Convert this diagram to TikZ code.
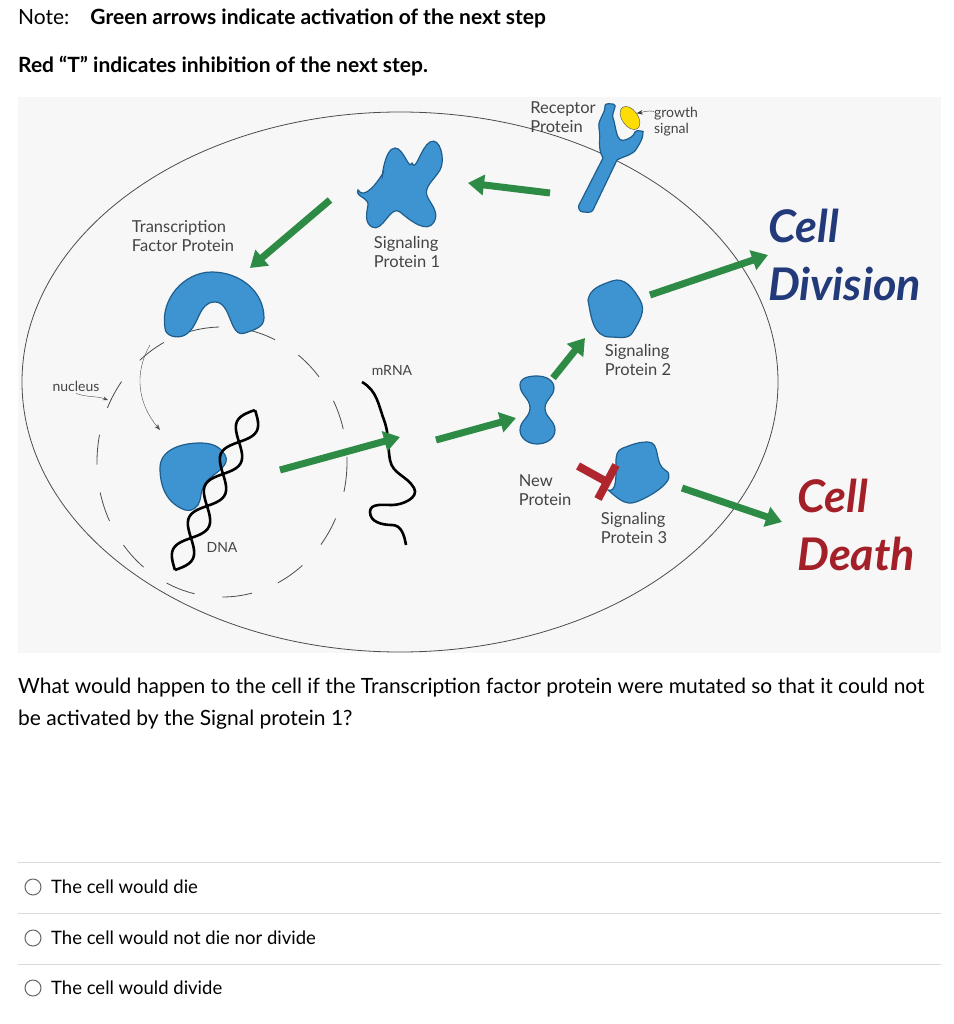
\documentclass[tikz,border=0pt]{standalone}
\usepackage{fontspec}
\setmainfont{Lato}
\usetikzlibrary{arrows.meta,shapes.geometric}
\definecolor{pblue}{HTML}{3E94D1}
\definecolor{pedge}{HTML}{1F5E8C}
\definecolor{agreen}{HTML}{2E8B45}
\definecolor{tred}{HTML}{B0262E}
\definecolor{navy}{HTML}{233A7A}
\definecolor{deathred}{HTML}{A32029}
\definecolor{lbl}{HTML}{444444}
\begin{document}
\begin{tikzpicture}[x=1pt,y=-1pt,
  prot/.style={fill=pblue,draw=pedge,line width=1.2pt},
  act/.style={draw=agreen,line width=7pt,-{Triangle[width=20pt,length=16pt]}},
  lab/.style={font=\fontsize{16.5}{19}\selectfont,text=lbl,align=left,inner sep=0pt},
  big/.style={font=\fontsize{45}{48}\selectfont\bfseries\itshape,inner sep=0pt,anchor=west},
  txt/.style={font=\fontsize{21}{26}\selectfont,inner sep=0pt,anchor=west},
  rule/.style={draw=black!15,line width=1pt}]
\useasboundingbox (0,0) rectangle (953,1024);
\fill[white] (0,0) rectangle (953,1024);
% header
\node[txt] (note) at (18,18) {Note:\quad \textbf{Green arrows indicate activation of the next step}};
\node[txt] (red) at (18,66) {\textbf{Red “T” indicates inhibition of the next step.}};
% image background
\fill[black!3] (18,97) rectangle (941,653);
% cell
\draw[black!70,line width=0.8pt] (400,382) ellipse [x radius=378,y radius=270];
% nucleus
\draw[black!70,line width=0.8pt,dash pattern=on 30pt off 28pt] (222,462) ellipse [x radius=125,y radius=135];
\node[lab,font=\fontsize{14}{16}\selectfont] (nuc) at (76,386) {nucleus};
\coordinate (nucp) at (108,400);
\draw[black!70,-{Stealth[length=5pt]}] (nuc.south) ++(0,2) to[out=-20,in=160] (nucp);
% receptor
\node[lab] (rec) at (563,117) {Receptor\\Protein};
\begin{scope}[shift={(7,0)}]
\draw[prot,line join=round] (572,205) -- (596,158) to[out=120,in=-80] (592,128) to[out=100,in=-90] (598,106)
  to[out=90,in=180] (606,104) to[out=0,in=110] (606,118) to[out=-70,in=200] (618,140)
  to[out=20,in=-110] (628,132) to[out=70,in=0] (636,132) to[out=-90,in=60] (630,148)
  to[out=-120,in=30] (610,160) -- (586,210) to[out=-120,in=0] (576,212) to[out=180,in=-120] cycle;
\end{scope}
\node[ellipse,draw=black!70,fill=yellow!80!orange,minimum width=16pt,minimum height=26pt,rotate=35,inner sep=0pt] (gs) at (630,118) {};
\node[lab,font=\fontsize{14}{16}\selectfont] (gsl) at (676,122) {growth\\signal};
\draw[black!80,-{Stealth[length=6pt]}] (gsl.north west) ++(0,4) to[out=170,in=10] (gs.east);
% signaling protein 1 (X)
\draw[prot] (358,190) to[out=-60,in=-120] (383,173) to[out=-100,in=180] (395,148) to[out=0,in=-110] (412,163)
  to[out=-70,in=210] (430,142) to[out=30,in=60] (440,170) to[out=-120,in=120] (428,198)
  to[out=-60,in=60] (434,222) to[out=-120,in=-40] (400,212) to[out=140,in=-30] (372,227)
  to[out=150,in=-100] (368,205) to[out=80,in=-120] cycle;
\node[lab] (sp1l) at (407,252) {Signaling\\Protein 1};
% transcription factor
\node[lab] (tfl) at (183,236) {Transcription\\Factor Protein};
\draw[prot] (165,328) to[out=100,in=180] (212,272) to[out=0,in=90] (264,318) to[out=-90,in=20] (245,333)
  to[out=200,in=0] (215,302) to[out=180,in=30] (185,335) to[out=210,in=-90] cycle;
% curved thin arrow
\draw[black!70,-{Stealth[length=6pt]}] (150,345) to[out=240,in=130] (160,430);
% DNA-bound protein
\draw[prot] (160,468) to[out=90,in=180] (200,443) to[out=0,in=120] (225,455) to[out=-60,in=40] (210,478)
  to[out=220,in=80] (200,500) to[out=-100,in=-20] (185,510) to[out=160,in=-90] cycle;
% DNA helix
\draw[black,line width=2.6pt,smooth] plot[domain=0:1,samples=60] ({175+80*\x+11*sin(\x*900)*0.894},{570-160*\x+11*sin(\x*900)*0.447});
\draw[black,line width=2.6pt,smooth] plot[domain=0:1,samples=60] ({175+80*\x+11*sin(\x*900+180)*0.894},{570-160*\x+11*sin(\x*900+180)*0.447});
\node[lab,font=\fontsize{14}{16}\selectfont] (dna) at (222,547) {DNA};
% mRNA
\draw[black,line width=2.6pt] (362,382) to[out=-30,in=110] (384,420) to[out=-70,in=100] (390,460) to[out=-80,in=120] (414,488)
  to[out=-60,in=0] (392,505) to[out=180,in=90] (370,512) to[out=-90,in=180] (392,525) to[out=0,in=100] (406,545);
\node[lab,font=\fontsize{14}{16}\selectfont] (mrna) at (392,370) {mRNA};
% new protein
\draw[prot] (520,385) to[out=90,in=180] (537,376) to[out=0,in=90] (554,388) to[out=-90,in=90] (545,408)
  to[out=-90,in=90] (555,430) to[out=-90,in=0] (537,444) to[out=180,in=-90] (520,430) to[out=90,in=-90] (530,408) to[out=90,in=-90] cycle;
\node[lab] (npl) at (545,490) {New\\Protein};
% signaling protein 2
\draw[prot] (588,300) to[out=80,in=200] (612,281) to[out=20,in=120] (640,300) to[out=-60,in=60] (633,332) to[out=-120,in=0] (610,337) to[out=180,in=-80] cycle;
\node[lab] (sp2l) at (638,360) {Signaling\\Protein 2};
% signaling protein 3
\begin{scope}[shift={(8,0)}]
\draw[prot] (600,490) to[out=-20,in=-90] (608,470) to[out=90,in=200] (615,448) to[out=20,in=180] (640,442) to[out=0,in=150] (657,470)
  to[out=-30,in=20] (628,502) to[out=200,in=-40] cycle;
\end{scope}
\node[lab] (sp3l) at (634,528) {Signaling\\Protein 3};
% red T
\draw[tred,line width=8pt] (578,466) -- (607,482);
\draw[tred,line width=8pt] (616,465) -- (598,499);
% green arrows
\draw[act] (330,200) -- (250,268);
\draw[act] (550,193) -- (468,183);
\draw[act] (280,470) -- (400,437);
\draw[act] (436,440) -- (516,418);
\draw[act] (553,378) -- (585,338);
\draw[act] (650,295) -- (768,255);
\draw[act] (682,488) -- (782,522);
% outcomes
\node[big,text=navy] (cd1) at (768,226) {Cell};
\node[big,text=navy] (cd2) at (768,284) {Division};
\node[big,text=deathred] (d1) at (797,496) {Cell};
\node[big,text=deathred] (d2) at (797,554) {Death};
% question
\node[txt] (q1) at (18,688) {What would happen to the cell if the Transcription factor protein were mutated so that it could not};
\node[txt] (q2) at (18,720) {be activated by the Signal protein 1?};
\draw[rule] (18,862) -- (941,862);
\draw[rule] (18,913) -- (941,913);
\draw[rule] (18,964) -- (941,964);
\foreach \y/\t [count=\i] in {887/The cell would die,938/The cell would not die nor divide,988/The cell would divide}{
  \node[circle,draw=black!60,line width=1pt,minimum size=16pt,inner sep=0pt] (r\i) at (33,\y) {};
  \node[txt,font=\fontsize{18.5}{22}\selectfont] (o\i) at (51,\y) {\t};
}
\end{tikzpicture}
\end{document}
